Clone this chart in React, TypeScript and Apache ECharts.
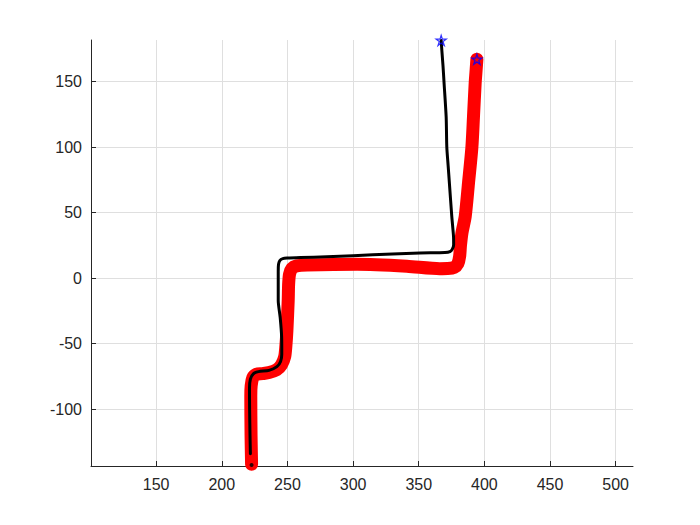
import React, { useEffect, useRef } from "react";
import * as echarts from "echarts";

// Tick values
const xTicks = [150, 200, 250, 300, 350, 400, 450, 500];
const yTicks = [-100, -50, 0, 50, 100, 150];

// Black trajectory
const blackX = [367.1, 367.6, 368.5, 369.3, 370.9, 371.4, 372.4, 373.4, 375.2, 376.5, 376.6, 375.6, 373.8, 370, 351, 330, 300, 280, 260, 250, 246.5, 244.2, 243.2, 243.0, 243.0, 244.5, 245.6, 245.7, 244.8, 242.0, 236, 228, 224.2, 221.8, 221.1, 221.2, 221.5, 221.8];
const blackY = [181.5, 174, 162, 149, 123, 100, 86, 72, 47, 32, 25.5, 22.2, 20.3, 19.6, 19.3, 18.5, 17.2, 16.4, 15.8, 15.4, 15, 13.5, 10.5, 5, -17, -30, -45, -58, -63.5, -67.5, -70.3, -71.3, -72.8, -77, -84, -100, -120, -134];

// Red trajectory
const redX = [394.3, 393.8, 393.0, 391.7, 390.5, 387.9, 385.4, 383.0, 381.8, 381.2, 379.8, 377.0, 372, 366, 341, 303, 265, 257, 253.4, 251.6, 250.9, 250.6, 249.6, 248.8, 247.9, 245.5, 241.8, 236, 231, 226, 223.6, 222.4, 222.1, 222.3, 222.7];
const redY = [167.1, 160, 149, 123, 100, 72.4, 47, 35, 25, 17, 11.2, 8.3, 7.4, 7.3, 9.2, 10.7, 10.1, 9.4, 7.4, 3, -5, -17, -40, -52, -60, -66, -69.8, -72, -72.8, -73.4, -76, -82, -90, -120, -142];

// End marker
const endX = [222.7];
const endY = [-142.6];

const starPath =
  "path://M50,0 L61.2,34.5 L97.6,34.5 L68.2,55.9 L79.4,90.5 L50,69.1 L20.6,90.5 L31.8,55.9 L2.4,34.5 L38.8,34.5 Z";

const zip = (xs: number[], ys: number[]) => xs.map((x, i) => [x, ys[i]]);

const axisColor = "#262626";
const gridColor = "#dfdfdf";
const font = "'Liberation Sans', Arial, Helvetica, sans-serif";

export default function App() {
  const ref = useRef<HTMLDivElement>(null);
  useEffect(() => {
    if (!ref.current) return;
    const chart = echarts.init(ref.current, undefined, { renderer: "svg" });
    const makeAxis = (ticks: number[], min: number, max: number, isX: boolean) => ({
      type: "value",
      min,
      max,
      axisLine: { show: true, onZero: false, lineStyle: { color: axisColor, width: 1 } },
      axisTick: { show: true, inside: true, length: 5, customValues: ticks, lineStyle: { color: axisColor, width: 1 } },
      axisLabel: {
        show: true,
        customValues: ticks,
        color: axisColor,
        fontSize: 16,
        fontFamily: font,
        margin: isX ? 10 : 9,
      },
      splitLine: { show: true, customValues: ticks, lineStyle: { color: gridColor, width: 1 } },
    });
    chart.setOption({
      animation: false,
      backgroundColor: "#ffffff",
      grid: { left: 91, top: 40, right: 67, bottom: 59 },
      xAxis: makeAxis(xTicks, 100.4, 513.2, true),
      yAxis: makeAxis(yTicks, -143.3, 181.8, false),
      series: [
        {
          type: "line",
          data: zip(redX, redY),
          showSymbol: false,
          symbol: "none",
          smooth: 0.25,
          clip: false,
          silent: true,
          z: 2,
          lineStyle: { color: "#ff0000", width: 13, cap: "round", join: "round" },
        },
        {
          type: "line",
          data: zip(blackX, blackY),
          showSymbol: false,
          symbol: "none",
          smooth: 0.25,
          clip: false,
          silent: true,
          z: 3,
          lineStyle: { color: "#000000", width: 3, cap: "round", join: "round" },
        },
        {
          type: "scatter",
          data: zip(endX, endY),
          symbol: "circle",
          symbolSize: 4,
          clip: false,
          silent: true,
          z: 4,
          itemStyle: { color: "#000000" },
        },
        {
          type: "scatter",
          data: [
            [blackX[0], blackY[0]],
            [redX[0], redY[0]],
          ],
          symbol: starPath,
          symbolSize: 10,
          clip: false,
          silent: true,
          z: 5,
          itemStyle: { color: "rgba(0,0,0,0)", borderColor: "#0000ff", borderWidth: 1.3 },
        },
      ],
    });
    return () => chart.dispose();
  }, []);
  return (
    <div
      ref={ref}
      style={{ position: "fixed", left: 0, top: 0, width: 700, height: 525, background: "#fff" }}
    />
  );
}
